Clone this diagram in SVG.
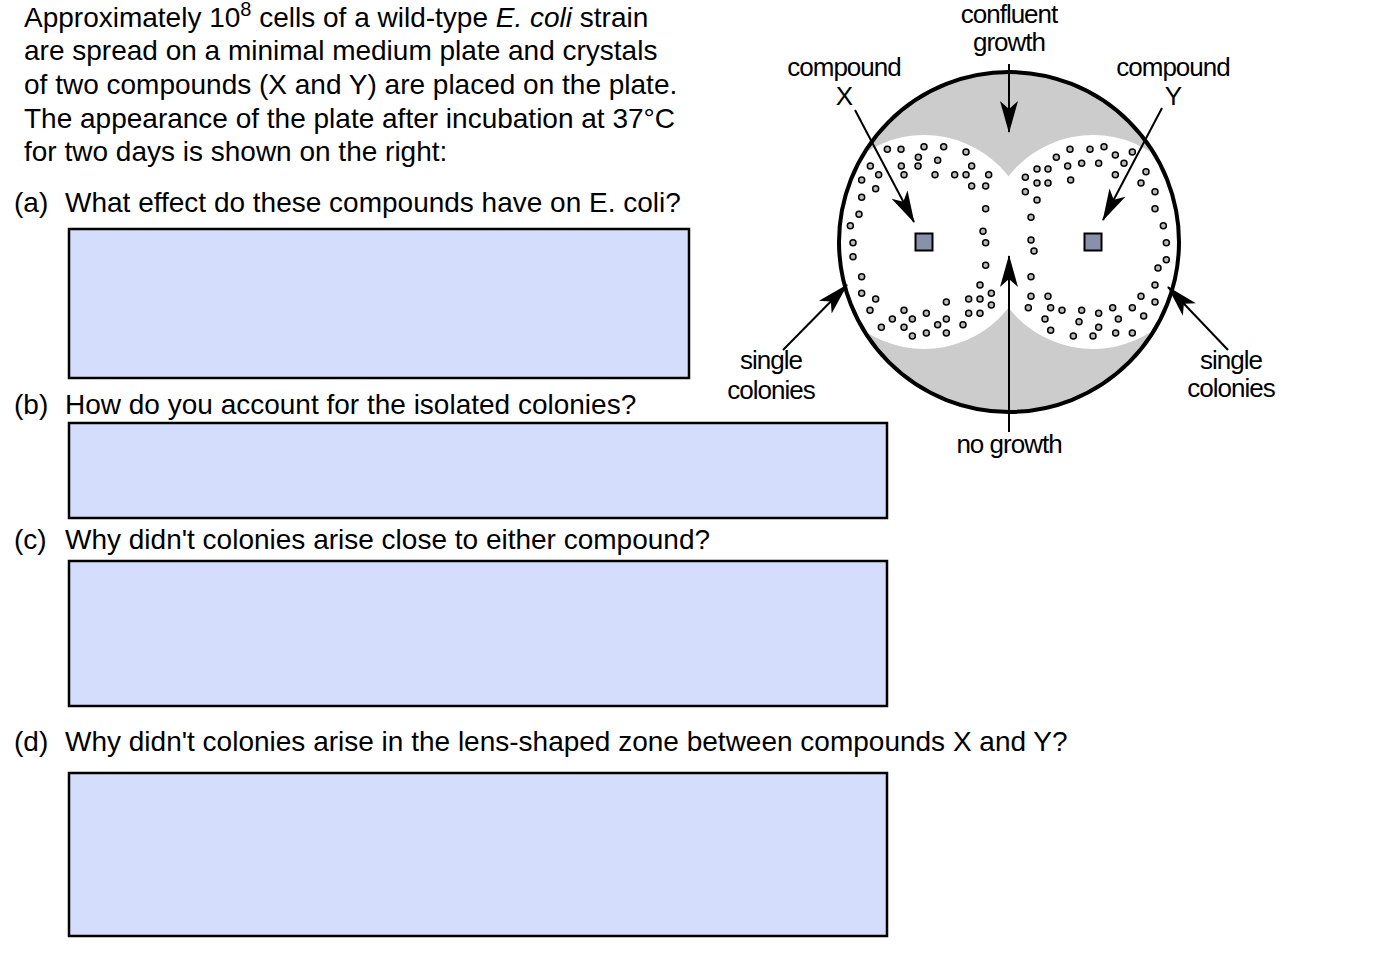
<svg xmlns="http://www.w3.org/2000/svg" width="1382" height="958" viewBox="0 0 1382 958">
<style>
.t{font-family:"Liberation Sans",Arial,sans-serif;font-size:28px;fill:#000}
.l{font-family:"Liberation Sans",Arial,sans-serif;font-size:26px;fill:#000;text-anchor:middle;letter-spacing:-1px}
.box{fill:#d5ddfc;stroke:#000;stroke-width:2.5}
.ar{stroke:#000;stroke-width:2;fill:none;marker-end:url(#ah)}
.d circle{fill:#bbb;stroke:#000;stroke-width:4.5}
</style>
<defs>
<marker id="ah" markerWidth="32" markerHeight="20" viewBox="0 0 32 20" refX="31" refY="10" orient="auto" markerUnits="userSpaceOnUse"><path d="M0,1 L32,10 L0,19 L8,10Z" fill="#000"/></marker>
<clipPath id="plate"><circle cx="1009" cy="242" r="170"/></clipPath>
</defs>
<g id="text">
<text class="t" x="24" y="27">Approximately 10<tspan font-size="20" dy="-11">8</tspan><tspan dy="11"> cells of a wild-type </tspan><tspan font-style="italic">E. coli</tspan> strain</text>
<text class="t" x="24" y="60">are spread on a minimal medium plate and crystals</text>
<text class="t" x="24" y="94">of two compounds (X and Y) are placed on the plate.</text>
<text class="t" x="24" y="128">The appearance of the plate after incubation at 37°C</text>
<text class="t" x="24" y="161">for two days is shown on the right:</text>
<text class="t" x="14" y="212">(a)</text><text class="t" x="65" y="212">What effect do these compounds have on E. coli?</text>
<text class="t" x="14" y="414">(b)</text><text class="t" x="65" y="414">How do you account for the isolated colonies?</text>
<text class="t" x="14" y="549">(c)</text><text class="t" x="65" y="549">Why didn't colonies arise close to either compound?</text>
<text class="t" x="14" y="751">(d)</text><text class="t" x="65" y="751">Why didn't colonies arise in the lens-shaped zone between compounds X and Y?</text>
</g>
<g id="boxes">
<rect class="box" x="69" y="229" width="620" height="149"/>
<rect class="box" x="69" y="423" width="818" height="95"/>
<rect class="box" x="69" y="561" width="818" height="145"/>
<rect class="box" x="69" y="773" width="818" height="163"/>
</g>
<g id="plate-node">
<circle cx="1009" cy="242" r="170" fill="#cccccc"/>
<g clip-path="url(#plate)" fill="#fff">
<circle cx="924" cy="242" r="107"/><circle cx="1093" cy="242" r="107"/>
</g>
<g class="d" transform="translate(830,60) scale(0.33333)">
<circle cx="172" cy="268" r="9"/><circle cx="213" cy="268" r="9"/><circle cx="282" cy="260" r="9"/><circle cx="341" cy="260" r="9"/><circle cx="408" cy="276" r="9"/><circle cx="265" cy="292" r="9"/><circle cx="323" cy="301" r="9"/><circle cx="214" cy="318" r="9"/><circle cx="264" cy="318" r="9"/><circle cx="121" cy="318" r="9"/><circle cx="146" cy="344" r="9"/><circle cx="222" cy="344" r="9"/><circle cx="315" cy="344" r="9"/><circle cx="374" cy="344" r="9"/><circle cx="408" cy="344" r="9"/><circle cx="425" cy="318" r="9"/><circle cx="476" cy="344" r="9"/><circle cx="95" cy="360" r="9"/><circle cx="137" cy="386" r="9"/><circle cx="425" cy="378" r="9"/><circle cx="467" cy="378" r="9"/><circle cx="95" cy="412" r="9"/><circle cx="467" cy="446" r="9"/><circle cx="87" cy="463" r="9"/><circle cx="61" cy="497" r="9"/><circle cx="459" cy="514" r="9"/><circle cx="69" cy="548" r="9"/><circle cx="467" cy="548" r="9"/><circle cx="69" cy="590" r="9"/><circle cx="467" cy="616" r="9"/><circle cx="95" cy="650" r="9"/><circle cx="450" cy="675" r="9"/><circle cx="95" cy="700" r="9"/><circle cx="484" cy="700" r="9"/><circle cx="137" cy="717" r="9"/><circle cx="349" cy="726" r="9"/><circle cx="416" cy="717" r="9"/><circle cx="450" cy="717" r="9"/><circle cx="484" cy="735" r="9"/><circle cx="120" cy="751" r="9"/><circle cx="222" cy="751" r="9"/><circle cx="289" cy="760" r="9"/><circle cx="416" cy="760" r="9"/><circle cx="450" cy="760" r="9"/><circle cx="187" cy="777" r="9"/><circle cx="247" cy="777" r="9"/><circle cx="349" cy="777" r="9"/><circle cx="154" cy="802" r="9"/><circle cx="222" cy="802" r="9"/><circle cx="323" cy="794" r="9"/><circle cx="399" cy="794" r="9"/><circle cx="247" cy="828" r="9"/><circle cx="289" cy="819" r="9"/><circle cx="349" cy="819" r="9"/>
<circle cx="720" cy="268" r="9"/><circle cx="780" cy="268" r="9"/><circle cx="822" cy="260" r="9"/><circle cx="856" cy="285" r="9"/><circle cx="907" cy="276" r="9"/><circle cx="679" cy="292" r="9"/><circle cx="755" cy="310" r="9"/><circle cx="806" cy="310" r="9"/><circle cx="713" cy="318" r="9"/><circle cx="882" cy="310" r="9"/><circle cx="621" cy="327" r="9"/><circle cx="654" cy="327" r="9"/><circle cx="586" cy="352" r="9"/><circle cx="856" cy="344" r="9"/><circle cx="948" cy="335" r="9"/><circle cx="722" cy="360" r="9"/><circle cx="621" cy="369" r="9"/><circle cx="654" cy="369" r="9"/><circle cx="933" cy="369" r="9"/><circle cx="586" cy="395" r="9"/><circle cx="975" cy="395" r="9"/><circle cx="621" cy="420" r="9"/><circle cx="975" cy="446" r="9"/><circle cx="603" cy="472" r="9"/><circle cx="1000" cy="497" r="9"/><circle cx="603" cy="540" r="9"/><circle cx="1009" cy="548" r="9"/><circle cx="612" cy="573" r="9"/><circle cx="1009" cy="599" r="9"/><circle cx="984" cy="624" r="9"/><circle cx="603" cy="650" r="9"/><circle cx="975" cy="675" r="9"/><circle cx="603" cy="709" r="9"/><circle cx="654" cy="709" r="9"/><circle cx="933" cy="709" r="9"/><circle cx="975" cy="726" r="9"/><circle cx="595" cy="743" r="9"/><circle cx="662" cy="743" r="9"/><circle cx="696" cy="751" r="9"/><circle cx="755" cy="751" r="9"/><circle cx="806" cy="760" r="9"/><circle cx="848" cy="743" r="9"/><circle cx="907" cy="743" r="9"/><circle cx="645" cy="777" r="9"/><circle cx="747" cy="785" r="9"/><circle cx="865" cy="777" r="9"/><circle cx="941" cy="768" r="9"/><circle cx="662" cy="811" r="9"/><circle cx="806" cy="802" r="9"/><circle cx="730" cy="828" r="9"/><circle cx="789" cy="828" r="9"/><circle cx="857" cy="819" r="9"/><circle cx="907" cy="819" r="9"/>
</g>
<circle cx="1009" cy="242" r="170" fill="none" stroke="#000" stroke-width="4"/>
<rect x="915.5" y="233.5" width="17" height="17" fill="#8890aa" stroke="#000" stroke-width="2"/>
<rect x="1084.5" y="233.5" width="17" height="17" fill="#8890aa" stroke="#000" stroke-width="2"/>
</g>
<g id="connectors">
<line class="ar" x1="855" y1="110" x2="914" y2="222"/>
<line class="ar" x1="1162" y1="108" x2="1103" y2="220"/>
<line class="ar" x1="1009" y1="64" x2="1009" y2="132"/>
<line class="ar" x1="1009" y1="432" x2="1009" y2="256"/>
<line class="ar" x1="783" y1="350" x2="847" y2="285"/>
<line class="ar" x1="1228" y1="350" x2="1168" y2="287"/>
</g>
<g id="labels">
<text class="l" x="1009" y="23">confluent</text><text class="l" x="1009" y="51">growth</text>
<text class="l" x="844" y="76">compound</text><text class="l" x="844" y="105">X</text>
<text class="l" x="1173" y="76">compound</text><text class="l" x="1173" y="105">Y</text>
<text class="l" x="771" y="369">single</text><text class="l" x="771" y="399">colonies</text>
<text class="l" x="1231" y="369">single</text><text class="l" x="1231" y="397">colonies</text>
<text class="l" x="1009" y="453">no growth</text>
</g>
</svg>
